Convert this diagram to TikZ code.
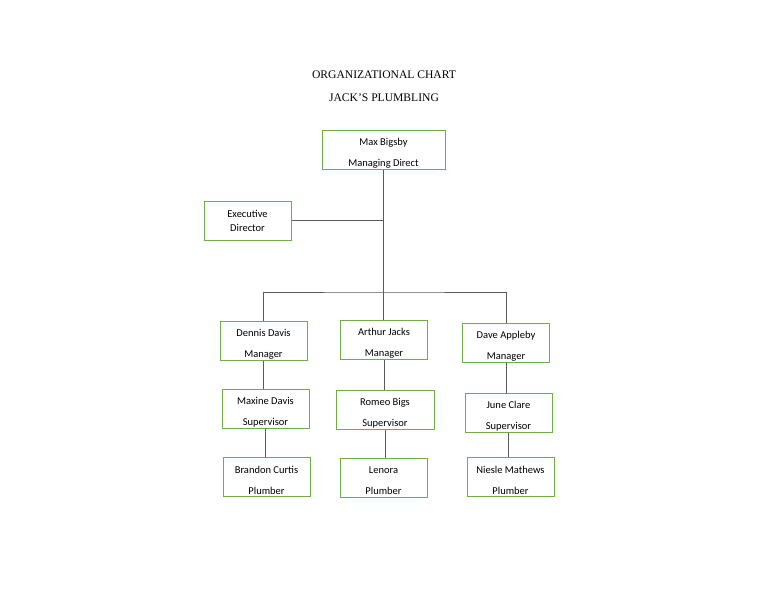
\documentclass[tikz,border=0pt]{standalone}
\usepackage{fontspec}
\setmainfont{Liberation Serif}
\newfontfamily\calibri{Carlito}
\usetikzlibrary{positioning,calc}
\definecolor{boxgreen}{RGB}{112,173,71}
\definecolor{linegray}{RGB}{90,90,90}
\newcommand\lowstrut{\rule{0pt}{14pt}}
\tikzset{
  emp/.style={draw=boxgreen, line width=1pt, align=center, fill=white,
              font=\fontsize{10.5}{21}\selectfont\calibri, minimum width=#1,
              minimum height=39pt, inner sep=0pt},
  emp/.default=87pt,
  link/.style={draw=linegray, line width=0.7pt},
  ttl/.style={font=\fontsize{11.6}{13}\selectfont}
}

\begin{document}
\begin{tikzpicture}[x=1pt,y=-1pt]
\useasboundingbox[fill=white] (0,0) rectangle (768,594);
% title
\node[ttl] (t1) at (384,75) {ORGANIZATIONAL CHART};
\node[ttl] (t2) at (384,98) {JACK'S PLUMBLING};
% top of the chart
\node[emp=123pt] (max) at (383.5,149.5) {\lowstrut Max Bigsby\\Managing Direct};
\node[emp] (exec) at (247.5,220.5) {Executive\\[-7pt]Director};
% managers
\node[emp] (dennis) at (263.5,340.5) {\lowstrut Dennis Davis\\Manager};
\node[emp] (arthur) at (384,340) {\lowstrut Arthur Jacks\\Manager};
\node[emp] (dave) at (506,342.5) {\lowstrut Dave Appleby\\Manager};
% supervisors
\node[emp] (maxine) at (265.5,408.5) {\lowstrut Maxine Davis\\Supervisor};
\node[emp=98pt] (romeo) at (385,409.5) {\lowstrut Romeo Bigs\\Supervisor};
\node[emp] (june) at (508.5,412.5) {\lowstrut June Clare\\Supervisor};
% plumbers
\node[emp] (brandon) at (266.5,477) {\lowstrut Brandon Curtis\\Plumber};
\node[emp] (lenora) at (383.5,477.5) {\lowstrut Lenora\\Plumber};
\node[emp] (niesle) at (510.5,477) {\lowstrut Niesle Mathews\\Plumber};
% connectors
\coordinate (bar) at (384,292);
\draw[link] (max.south) -- (max.south |- arthur.north);
\draw[link] (exec.east) -- (exec.east -| max.south);
\draw[link] (dennis.north) |- (bar) -| (dave.north);
\draw[link] (dennis.south) -- (dennis.south |- maxine.north);
\draw[link] (maxine.south) -- (maxine.south |- brandon.north);
\draw[link] (arthur.south) -- (arthur.south |- romeo.north);
\draw[link] (romeo.south) -- (romeo.south |- lenora.north);
\draw[link] (dave.south) -- (dave.south |- june.north);
\draw[link] (june.south) -- (june.south |- niesle.north);
\end{tikzpicture}
\end{document}
